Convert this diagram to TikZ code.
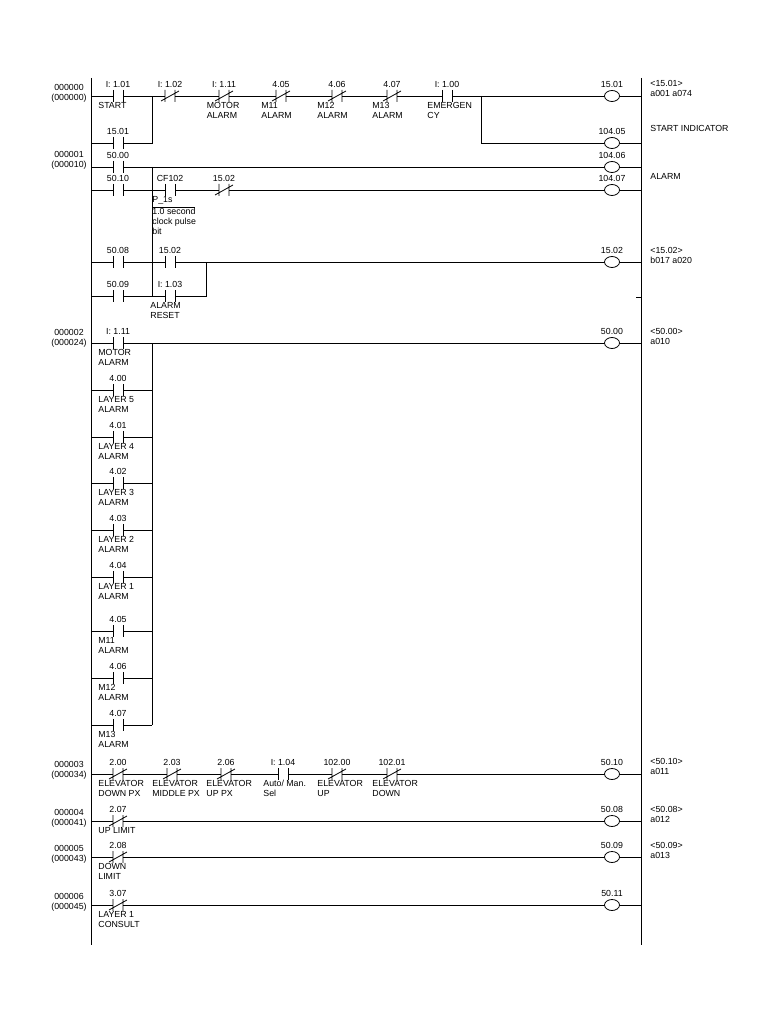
\documentclass[tikz,border=0pt]{standalone}
\usepackage{fontspec}
\setmainfont{Liberation Sans}
\usetikzlibrary{shapes.geometric}
\begin{document}
\begin{tikzpicture}[x=1pt,y=-1pt,line width=0.8pt,
  lbl/.style={font=\fontsize{8.8}{9.8}\selectfont,inner sep=0pt},
  nm/.style={lbl,anchor=north west,align=left},
  coil/.style={ellipse,draw,fill=white,minimum width=15pt,minimum height=11pt,inner sep=0pt},
  pics/NO/.style={code={\fill[white](-4.6,-3)rectangle(4.6,3);\draw(-5,-6)--(-5,6)(5,-6)--(5,6);}},
  pics/NC/.style={code={\fill[white](-4.6,-3)rectangle(4.6,3);\draw(-5,-6)--(-5,6)(5,-6)--(5,6)(-9,5)--(9,-5);}}]
\useasboundingbox (0,0) rectangle (768,1024);
\newcommand\con[5]{% type, x, y, address, name
  \pic at (#2,#3) {#1};
  \node[lbl,anchor=south] at (#2,#3-8) {#4};
  \node[nm] at (#2-20,#3+6) {#5};}
\newcommand\coilat[3]{% name,y,label
  \node[coil] (#1) at (612,#2) {};
  \node[lbl,anchor=south] at (612,#2-8) {#3};}
% rails
\draw (91,78) -- (91,945);
\draw (641,78) -- (641,945);
\draw (636,297) -- (641,297);
% step numbers
\foreach \y/\a/\b in {88/000000/000000,155/000001/000010,333/000002/000024,765/000003/000034,813/000004/000041,849/000005/000043,897/000006/000045}
  \node[lbl,align=center] at (69,\y+5) {\a\\(\b)};
% right labels
\node[nm] at (650,80) {<15.01>\\a001 a074};
\node[nm] at (650,125) {START INDICATOR};
\node[nm] at (650,173) {ALARM};
\node[nm] at (650,247) {<15.02>\\b017 a020};
\node[nm] at (650,328) {<50.00>\\a010};
\node[nm] at (650,758) {<50.10>\\a011};
\node[nm] at (650,806) {<50.08>\\a012};
\node[nm] at (650,842) {<50.09>\\a013};
% rung 0
\draw (91,96) -- (641,96);
\draw (91,143) -- (152,143) -- (152,96);
\draw (481,96) -- (481,143) -- (641,143);
\con{NO}{118}{96}{I: 1.01}{START}
\con{NC}{170}{96}{I: 1.02}{}
\con{NC}{224}{96}{I: 1.11}{\ MOTOR\\\ ALARM}
\con{NC}{281}{96}{4.05}{M11\\ALARM}
\con{NC}{337}{96}{4.06}{M12\\ALARM}
\con{NC}{392}{96}{4.07}{M13\\ALARM}
\con{NO}{447}{96}{I: 1.00}{EMERGEN\\CY}
\con{NO}{118}{143}{15.01}{}
\coilat{c1501}{96}{15.01}
\coilat{c10405}{143}{104.05}
% rung 1
\draw (91,167) -- (641,167);
\draw (152,167) -- (152,296);
\draw (91,190) -- (641,190);
\draw (91,262) -- (641,262);
\draw (91,296) -- (206,296) -- (206,262);
\con{NO}{118}{167}{50.00}{}
\con{NO}{118}{190}{50.10}{}
\con{NO}{170}{190}{CF102}{}
\node[nm] at (152,196) {P\_1s};
\draw[line width=0.6pt] (152,207) -- (195,207);
\node[nm] at (152,208) {1.0 second\\clock pulse\\bit};
\con{NC}{224}{190}{15.02}{}
\coilat{c10406}{167}{104.06}
\coilat{c10407}{190}{104.07}
\con{NO}{118}{262}{50.08}{}
\con{NO}{170}{262}{15.02}{}
\con{NO}{118}{296}{50.09}{}
\con{NO}{170}{296}{I: 1.03}{ALARM\\RESET}
\coilat{c1502}{262}{15.02}
% rung 2
\draw (91,343) -- (641,343);
\draw (152,343) -- (152,725);
\con{NO}{118}{343}{I: 1.11}{MOTOR\\ALARM}
\foreach \y/\a/\n in {390/4.00/LAYER 5,437/4.01/LAYER 4,483/4.02/LAYER 3,530/4.03/LAYER 2,577/4.04/LAYER 1,631/4.05/M11,678/4.06/M12,725/4.07/M13}{
  \draw (91,\y) -- (152,\y);
  \con{NO}{118}{\y}{\a}{\n\\ALARM}}
\coilat{c5000}{343}{50.00}
% rung 3
\draw (91,774) -- (641,774);
\con{NC}{118}{774}{2.00}{ELEVATOR\\DOWN PX}
\con{NC}{172}{774}{2.03}{ELEVATOR\\MIDDLE PX}
\con{NC}{226}{774}{2.06}{ELEVATOR\\UP PX}
\con{NO}{283}{774}{I: 1.04}{Auto/ Man.\\Sel}
\con{NC}{337}{774}{102.00}{ELEVATOR\\UP}
\con{NC}{392}{774}{102.01}{ELEVATOR\\DOWN}
\coilat{c5010}{774}{50.10}
% rungs 4-6
\draw (91,821) -- (641,821);
\con{NC}{118}{821}{2.07}{UP LIMIT}
\coilat{c5008}{821}{50.08}
\draw (91,857) -- (641,857);
\con{NC}{118}{857}{2.08}{DOWN\\LIMIT}
\coilat{c5009}{857}{50.09}
\draw (91,905) -- (641,905);
\con{NC}{118}{905}{3.07}{LAYER 1\\CONSULT}
\coilat{c5011}{905}{50.11}
\end{tikzpicture}
\end{document}
